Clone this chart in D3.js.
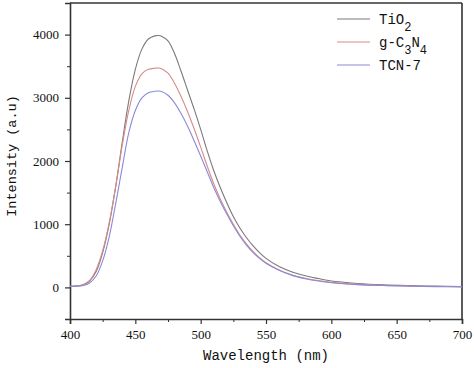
<!DOCTYPE html>
<html>
<head>
<meta charset="utf-8">
<script src="https://cdn.jsdelivr.net/npm/d3@7"></script>
<style>
  body { margin: 0; background: #fff; }
  svg { display: block; }
  .tick text { font-family: "Liberation Serif", serif; font-size: 13px; fill: #111; }
</style>
</head>
<body>
<div id="chart"></div>
<script>
// wavelengths (nm)
var wavelength = [400,405,410,415,420,425,430,435,440,445,450,455,460,465,468,470,475,480,485,490,495,500,505,510,515,520,525,530,535,540,545,550,560,570,580,590,600,620,640,660,680,700];

// PL intensity (a.u)
var tio2 = [20,25,40,100,250,550,1000,1600,2300,2950,3450,3770,3930,3980,3985,3975,3900,3700,3420,3120,2820,2500,2160,1850,1580,1340,1120,940,790,660,550,460,330,245,185,140,100,62,40,28,20,15];
var gc3n4 = [15,20,40,110,280,580,1020,1600,2250,2800,3180,3380,3450,3468,3472,3460,3390,3230,3020,2780,2510,2220,1920,1640,1400,1190,1000,830,690,570,470,390,275,195,145,108,80,48,31,21,15,11];
var tcn7 = [15,18,30,70,180,420,800,1330,1900,2450,2800,3000,3080,3103,3108,3100,3040,2920,2750,2550,2320,2080,1830,1580,1360,1160,975,810,670,555,460,382,270,190,138,100,74,44,29,19,13,9];

var colors = ["#7a7a7a", "#d98a8a", "#8a8ad9"];

var xTicks = [400,450,500,550,600,650,700];
var yTicks = [0,1000,2000,3000,4000];

var W = 474, H = 368;
var margin = {top: 3, left: 70, right: 12, bottom: 49};
var width = W - margin.left - margin.right,
    height = H - margin.top - margin.bottom;

var svg = d3.select("#chart").append("svg")
    .attr("width", W)
    .attr("height", H);

var g = svg.append("g")
    .attr("transform", "translate(" + margin.left + "," + margin.top + ")");

var x = d3.scaleLinear().domain([400, 700]).range([0, width]);
var y = d3.scaleLinear().domain([-500, 4500]).range([height, 0]);

// minor ticks
g.append("g")
  .attr("transform", "translate(0," + height + ")")
  .call(d3.axisBottom(x).tickValues(d3.range(425, 700, 50)).tickSize(3).tickFormat(""))
  .call(function(s){ s.select(".domain").remove(); s.selectAll("line").attr("stroke", "#333"); });
g.append("g")
  .call(d3.axisLeft(y).tickValues([-500,500,1500,2500,3500]).tickSize(3).tickFormat(""))
  .call(function(s){ s.select(".domain").remove(); s.selectAll("line").attr("stroke", "#333"); });

// major axes
var xAxis = g.append("g")
  .attr("transform", "translate(0," + height + ")")
  .call(d3.axisBottom(x).tickValues(xTicks).tickSize(5).tickPadding(6).tickFormat(d3.format("d")));
var yAxis = g.append("g")
  .call(d3.axisLeft(y).tickValues(yTicks).tickSize(5).tickPadding(6).tickFormat(d3.format("d")));
[xAxis, yAxis].forEach(function(a){
  a.select(".domain").attr("stroke", "#333").attr("stroke-width", 1.6);
  a.selectAll(".tick line").attr("stroke", "#333").attr("stroke-width", 1.2);
});

// top and right frame
g.append("line").attr("x1", 0).attr("x2", width).attr("y1", 0).attr("y2", 0)
  .attr("stroke", "#333").attr("stroke-width", 1.6);
g.append("line").attr("x1", width).attr("x2", width).attr("y1", 0).attr("y2", height)
  .attr("stroke", "#333").attr("stroke-width", 1.6);

// curves
var line = d3.line()
  .x(function(d){ return x(d[0]); })
  .y(function(d){ return y(d[1]); })
  .curve(d3.curveCatmullRom.alpha(0.5));

[tio2, gc3n4, tcn7].forEach(function(vals, i){
  g.append("path")
    .datum(wavelength.map(function(w, j){ return [w, vals[j]]; }))
    .attr("fill", "none")
    .attr("stroke", colors[i])
    .attr("stroke-width", 1.1)
    .attr("d", line);
});

// axis titles
svg.append("text")
  .attr("x", margin.left + width / 2)
  .attr("y", 360)
  .attr("text-anchor", "middle")
  .style("font-family", "'Liberation Mono', monospace")
  .style("font-size", "14px")
  .attr("fill", "#111")
  .text("Wavelength (nm)");

svg.append("text")
  .attr("transform", "translate(16,156) rotate(-90)")
  .attr("text-anchor", "middle")
  .style("font-family", "'Liberation Mono', monospace")
  .style("font-size", "13.5px")
  .attr("fill", "#111")
  .text("Intensity (a.u)");

// legend
var legend = svg.append("g").attr("transform", "translate(337,19)");
var labels = [
  [["TiO", 0], ["2", 1]],
  [["g-C", 0], ["3", 1], ["N", 0], ["4", 1]],
  [["TCN-7", 0]]
];
labels.forEach(function(parts, i){
  var row = legend.append("g").attr("transform", "translate(0," + (i * 23) + ")");
  row.append("line").attr("x1", 0).attr("x2", 33).attr("y1", 0).attr("y2", 0)
    .attr("stroke", colors[i]).attr("stroke-width", 1.1);
  var t = row.append("text").attr("x", 42).attr("y", 5)
    .style("font-family", "'Liberation Mono', monospace")
    .style("font-size", "14px")
    .attr("fill", "#111");
  parts.forEach(function(p){
    var s = t.append("tspan").text(p[0]);
    if (p[1]) s.attr("baseline-shift", "sub").style("font-size", "12px");
  });
});
</script>
</body>
</html>
